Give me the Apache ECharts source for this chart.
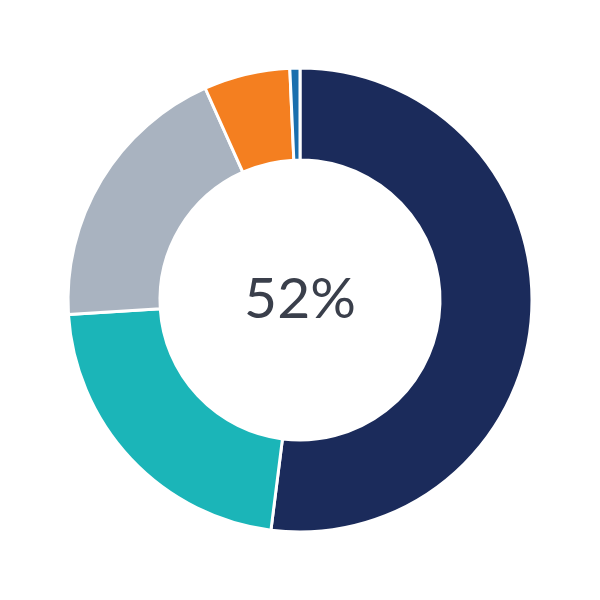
<!DOCTYPE html>
<html>
<head>
<meta charset="utf-8">
<script src="https://cdn.jsdelivr.net/npm/echarts@6/dist/echarts.min.js"></script>
<style>html,body{margin:0;padding:0;background:#fff}#c{width:600px;height:600px}</style>
</head>
<body>
<div id="c"></div>
<script>
const categories = ['A', 'B', 'C', 'D', 'E'];
const values = [52, 22, 19.3, 6, 0.7];
const colors = ['#1b2b5b', '#1bb5b8', '#a9b3c0', '#f47f20', '#1a6fae'];
const centerLabel = '52%';

const chart = echarts.init(document.getElementById('c'));
chart.setOption({
  animation: false,
  title: {
    text: centerLabel,
    left: 'center',
    top: 'middle',
    textStyle: { fontFamily: 'Lato', fontWeight: 'normal', fontSize: 57, color: '#3a3f4b' }
  },
  series: [{
    type: 'pie',
    center: [300, 300],
    radius: [140, 232],
    startAngle: 90,
    clockwise: true,
    label: { show: false },
    labelLine: { show: false },
    itemStyle: { borderColor: '#fff', borderWidth: 3 },
    data: categories.map((c, i) => ({ name: c, value: values[i], itemStyle: { color: colors[i] } }))
  }]
});
</script>
</body>
</html>
